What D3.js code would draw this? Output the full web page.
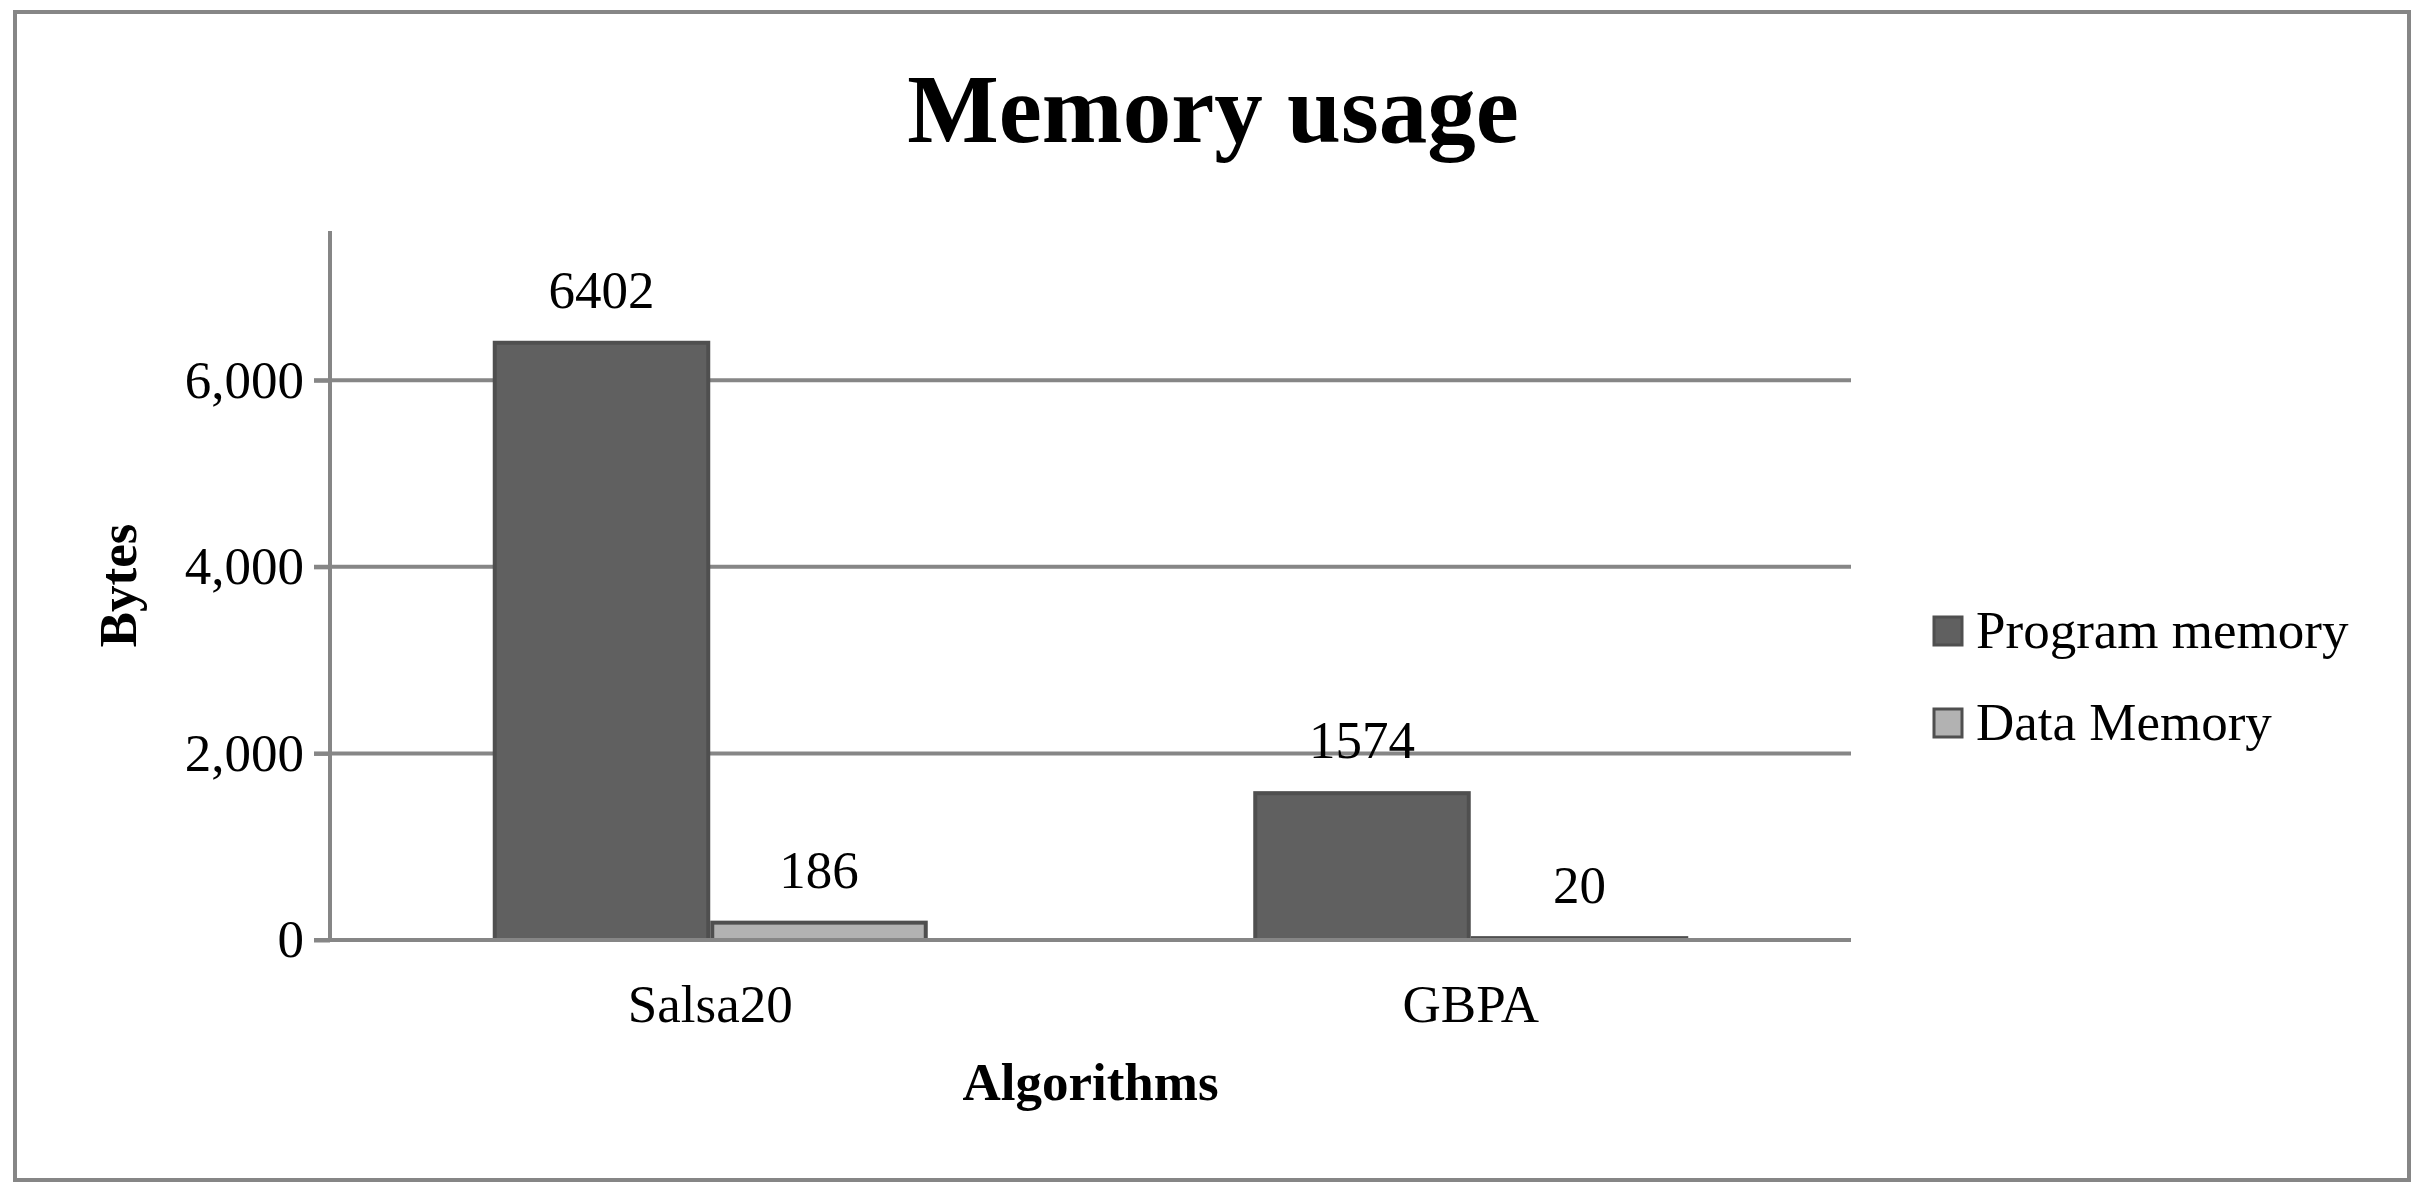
<!DOCTYPE html>
<html>
<head>
<meta charset="utf-8">
<script src="https://cdn.jsdelivr.net/npm/d3@7"></script>
<style>
  html, body { margin: 0; padding: 0; background: #fff; }
  svg { display: block; }
  text { font-family: "Liberation Serif", "Times New Roman", serif; fill: #000; }
</style>
</head>
<body>
<svg id="chart" width="2429" height="1193"></svg>
<script>
const categories = ["Salsa20", "GBPA"];
const seriesNames = ["Program memory", "Data Memory"];
const programMemory = [6402, 1574];
const dataMemory = [186, 20];
const yTicks = [0, 2000, 4000, 6000];
const titleText = "Memory usage";
const xTitle = "Algorithms";
const yTitle = "Bytes";

const fills = ["#606060", "#b2b2b2"];
const strokeCol = "#4f4f4f";
const gridCol = "#868686";

const svg = d3.select("#chart");
const W = 2429, H = 1193;
const plot = { left: 330, right: 1851, top: 231, bottom: 940 };

// outer border
svg.append("rect").attr("x", 15).attr("y", 12).attr("width", 2394).attr("height", 1168)
  .attr("fill", "#fff").attr("stroke", gridCol).attr("stroke-width", 4);

const y = d3.scaleLinear().domain([0, 7600]).range([plot.bottom, plot.top]);
const x0 = d3.scaleBand().domain(categories).range([plot.left, plot.right])
  .paddingInner(0.428).paddingOuter(0.214);
const x1 = d3.scaleBand().domain(seriesNames).range([0, x0.bandwidth()]).padding(0);

// gridlines
svg.append("g").selectAll("line").data(yTicks).join("line")
  .attr("x1", plot.left - 16).attr("x2", plot.right)
  .attr("y1", d => y(d)).attr("y2", d => y(d))
  .attr("stroke", gridCol).attr("stroke-width", 4);

// y axis
const yAxis = d3.axisLeft(y).tickValues(yTicks).tickSize(16).tickPadding(10)
  .tickFormat(d3.format(","));
const gy = svg.append("g").attr("transform", `translate(${plot.left},0)`).call(yAxis);
gy.select(".domain").remove();
gy.selectAll(".tick line").attr("stroke", gridCol).attr("stroke-width", 4);
gy.selectAll(".tick text").attr("font-family", "Liberation Serif").attr("font-size", 53)
  .attr("fill", "#000");
svg.append("line").attr("x1", plot.left).attr("x2", plot.left)
  .attr("y1", plot.top).attr("y2", plot.bottom + 2)
  .attr("stroke", gridCol).attr("stroke-width", 4);

// bars
const rows = categories.map((c, i) => ({ cat: c, vals: [programMemory[i], dataMemory[i]] }));
const groups = svg.append("g").selectAll("g").data(rows).join("g")
  .attr("transform", d => `translate(${x0(d.cat)},0)`);
groups.selectAll("rect").data(d => d.vals.map((v, j) => ({ v, s: seriesNames[j], j })))
  .join("rect")
  .attr("x", d => x1(d.s) + 2)
  .attr("width", x1.bandwidth() - 4)
  .attr("y", d => y(d.v))
  .attr("height", d => y(0) - y(d.v))
  .attr("fill", d => fills[d.j])
  .attr("stroke", strokeCol).attr("stroke-width", 4);
groups.selectAll("text.val").data(d => d.vals.map((v, j) => ({ v, s: seriesNames[j] })))
  .join("text").attr("class", "val")
  .attr("x", d => x1(d.s) + x1.bandwidth() / 2)
  .attr("y", d => y(d.v) - 35)
  .attr("text-anchor", "middle").attr("font-size", 53)
  .text(d => d.v);

// x axis baseline
svg.append("line").attr("x1", plot.left - 16).attr("x2", plot.right)
  .attr("y1", y(0)).attr("y2", y(0)).attr("stroke", gridCol).attr("stroke-width", 4);

// category labels
const xAxis = d3.axisBottom(x0).tickSize(0).tickPadding(0);
const gx = svg.append("g").attr("transform", `translate(0,${plot.bottom})`).call(xAxis);
gx.select(".domain").remove();
gx.selectAll(".tick text").attr("font-family", "Liberation Serif").attr("font-size", 53)
  .attr("fill", "#000").attr("dy", null).attr("y", 82);

// titles
svg.append("text").attr("x", 1213).attr("y", 142).attr("text-anchor", "middle")
  .attr("font-size", 97).attr("font-weight", "bold").text(titleText);
svg.append("text").attr("x", (plot.left + plot.right) / 2).attr("y", 1100)
  .attr("text-anchor", "middle").attr("font-size", 53).attr("font-weight", "bold").text(xTitle);
svg.append("text").attr("transform", `translate(136,${(plot.top + plot.bottom) / 2}) rotate(-90)`)
  .attr("text-anchor", "middle").attr("font-size", 53).attr("font-weight", "bold").text(yTitle);

// legend
const lg = svg.append("g").selectAll("g").data(seriesNames).join("g")
  .attr("transform", (d, i) => `translate(1934,${648 + i * 92})`);
lg.append("rect").attr("x", 0).attr("y", -31).attr("width", 28).attr("height", 28)
  .attr("fill", (d, i) => fills[i]).attr("stroke", strokeCol).attr("stroke-width", 3);
lg.append("text").attr("x", 42).attr("y", 0).attr("font-size", 53).text(d => d);
</script>
</body>
</html>
